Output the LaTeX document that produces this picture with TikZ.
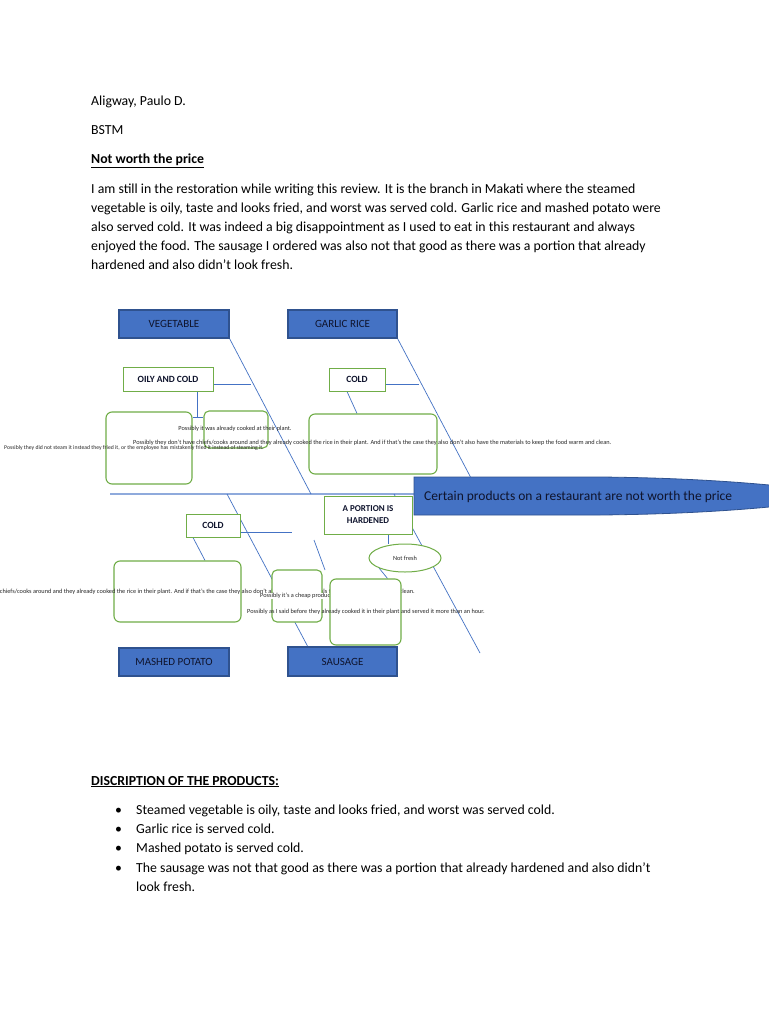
\documentclass[tikz,border=0pt]{standalone}
\usepackage{fontspec}
\setmainfont{Carlito}
\usepackage{tikz}
\usetikzlibrary{calc,shapes.geometric,backgrounds}
\definecolor{boxBlue}   {RGB}{68, 114, 196}
\definecolor{boxBorder} {RGB}{47,  82, 143}
\definecolor{causeGreen}{RGB}{112, 173, 71}
\definecolor{boneBlue}  {RGB}{68, 114, 196}
\definecolor{spineBlue} {RGB}{143, 170, 220}
\definecolor{textDark}  {RGB}{15,  20,  45}

\newcommand{\chefNote}{Possibly they don’t have chiefs/cooks around and they already cooked the rice in their plant. And if that’s the case they also don’t also have the materials to keep the food warm and clean.}

\tikzset{
  bodytext/.style={font=\fontsize{13.8}{18}\selectfont,anchor=base west,inner sep=0pt},
  catbox/.style={draw=boxBorder,fill=boxBlue,line width=1.1pt,inner sep=0pt,
                 font=\fontsize{11}{12}\selectfont,text=textDark},
  causebox/.style={draw=causeGreen,fill=white,line width=1pt,inner sep=0pt,
                   font=\bfseries\fontsize{9.5}{12}\selectfont,text=textDark},
  notebox/.style={draw=causeGreen,fill=white,line width=1.1pt,rounded corners=6pt,inner sep=0pt},
  tinytext/.style={font=\fontsize{6.3}{7}\selectfont,inner sep=0pt,text=black!85},
  bone/.style={draw=boneBlue,line width=0.7pt},
  spine/.style={draw=spineBlue,line width=1.3pt},
  headfill/.style={fill=boxBlue,draw=boxBorder,line width=0.8pt}
}

\begin{document}
\begin{tikzpicture}[x=1pt,y=-1pt]

    \begin{scope}[on background layer]
      \fill[white] (0,0) rectangle (768,1024);
    \end{scope}
    \useasboundingbox (0,0) rectangle (768,1024);

    % ════════ HEADER ════════
    \node[bodytext] (author) at (91,106) {Aligway, Paulo D.};
    \node[bodytext] (course) at (91,135) {BSTM};
    \node[bodytext,font=\bfseries\fontsize{13.8}{18}\selectfont] (title) at (91,164)
      {\underline{Not worth the price}};

    % review paragraph, one node per printed line
    \foreach \txt [count=\i] in {
      {I am still in the restoration while writing this review. It is the branch in Makati where the steamed},
      {vegetable is oily, taste and looks fried, and worst was served cold. Garlic rice and mashed potato were},
      {also served cold. It was indeed a big disappointment as I used to eat in this restaurant and always},
      {enjoyed the food. The sausage I ordered was also not that good as there was a portion that already},
      {hardened and also didn’t look fresh.}}{
      \node[bodytext] (review\i) at (91,{175.25+18.75*\i}) {\txt};
    }

    % ════════ FISHBONE ════════
    % categories
    \node[catbox,minimum width=110,minimum height=28] (veg)     at (174,324)     {VEGETABLE};
    \node[catbox,minimum width=109,minimum height=28] (rice)    at (342.5,324)   {GARLIC RICE};
    \node[catbox,minimum width=110,minimum height=28] (potato)  at (174,662)     {MASHED POTATO};
    \node[catbox,minimum width=109,minimum height=29] (sausage) at (342.5,661.5) {SAUSAGE};

    % head (effect), runs off the right edge
    \path[headfill] (414,477) -- (600,477) .. controls (700,478) and (780,484) .. (860,496)
      .. controls (780,508) and (700,514) .. (600,515) -- (414,515) -- cycle;
    \node[anchor=west,inner sep=0pt,font=\fontsize{13.5}{15}\selectfont,text=textDark]
      (effect) at (424,497) {Certain products on a restaurant are not worth the price};

    % causes
    \node[causebox,minimum width=90,minimum height=24] (oily)  at (168,379)   {OILY AND COLD};
    \node[causebox,minimum width=56,minimum height=23] (coldA) at (357,379.5) {COLD};
    \node[causebox,minimum width=54,minimum height=23] (coldB) at (213,525.5) {COLD};
    \node[causebox,minimum width=88,minimum height=38,align=center,
          font=\bfseries\fontsize{9}{12}\selectfont] (hard) at (368,515) {A PORTION IS\\HARDENED};
    \node[ellipse,draw=causeGreen,fill=white,line width=1pt,minimum width=72,
          minimum height=28,tinytext] (fresh) at (405,558) {Not fresh};

    % notes, upper side
    \node[notebox,minimum width=86,minimum height=72]  (noteVegA) at (149,448)   {};
    \node[notebox,minimum width=64,minimum height=37,rounded corners=5pt] (noteVegB) at (236,429.5) {};
    \node[notebox,minimum width=128,minimum height=60] (noteRice) at (373,444)   {};
    \node[tinytext] (txtVegB) at (235,429) {Possibly it was already cooked at their plant.};
    \node[tinytext,anchor=west] (txtRice) at (133,443) {\chefNote};
    \node[tinytext,anchor=west,font=\fontsize{5.7}{7}\selectfont] (txtVegA) at (4,448)
      {Possibly they did not steam it instead they fried it, or the employee has mistakenly fried it instead of steaming it.};

    % notes, lower side
    \node[notebox,minimum width=127,minimum height=61] (notePotato) at (177.5,591.5) {};
    \node[tinytext,anchor=east] (txtPotato) at (415,592) {\chefNote};
    \node[notebox,minimum width=50,minimum height=52,rounded corners=5pt] (noteSausA) at (297,596) {};
    \node[tinytext,anchor=west,fill=white] (txtSausA) at (260,596) {Possibly it’s a cheap product.};
    \node[notebox,minimum width=71,minimum height=66] (noteSausB) at (365.5,612) {};
    \node[tinytext,anchor=west] (txtSausB) at (247,612)
      {Possibly as I said before they already cooked it in their plant and served it more than an hour.};

    % free ends of the bones
    \coordinate (spineL) at (110,494);
    \coordinate (headW)  at (414,494);
    \coordinate (vegJ)   at (311,494);
    \coordinate (riceJ)  at (471,478);
    \coordinate (sausJ)  at (227,494);
    \coordinate (sausT)  at (308,647);
    \coordinate (hardJ)  at (394,494);
    \coordinate (hardT)  at (480,653);
    \coordinate (stubA)  at (314,540);
    \coordinate (stubB)  at (325,570);
    \coordinate (oilyJ)  at (251,384);
    \coordinate (coldAJ) at (419,384);
    \coordinate (coldBJ) at (292,532);
    \coordinate (oilyT)  at (197,417);

    \begin{scope}[on background layer]
      \draw[spine] (spineL) -- (headW);
      \draw[bone] (veg.south east) -- (vegJ);
      \draw[bone] (rice.south east) -- (riceJ);
      \draw[bone] (sausJ) -- (sausT);
      \draw[bone] (hardJ) -- (hardT);
      \draw[bone] (stubA) -- (stubB);
      % causes to bones
      \draw[bone] (oily.east |- oilyJ) -- (oilyJ);
      \draw[bone] (coldA.east |- coldAJ) -- (coldAJ);
      \draw[bone] (coldB.east |- coldBJ) -- (coldBJ);
      % causes to notes
      \draw[bone] (oily.south -| oilyT) -- (oilyT);
      \draw[bone] (noteVegA.east |- oilyT) -- (noteVegB.west |- oilyT);
      \draw[bone] ($(coldA.south)+(-10,0)$) -- ($(noteRice.north)+(-16,0)$);
      \draw[bone] ($(coldB.south)+(-20,0)$) -- ($(notePotato.north)+(27.5,0)$);
      \draw[bone] ($(hard.south)+(20,0)$) -- ($(fresh.north)+(-17,0)$);
      \draw[bone] (fresh.south west) -- ($(noteSausB.north)+(22,0)$);
    \end{scope}

    % ════════ DESCRIPTION ════════
    \node[bodytext,font=\bfseries\fontsize{13.8}{18}\selectfont] (listHead) at (91,785)
      {\underline{DISCRIPTION OF THE PRODUCTS:}};
    \foreach \txt [count=\i] in {
      {Steamed vegetable is oily, taste and looks fried, and worst was served cold.},
      {Garlic rice is served cold.},
      {Mashed potato is served cold.},
      {The sausage was not that good as there was a portion that already hardened and also didn’t}}{
      \node[bodytext] (dot\i) at (115,{795+19.25*\i}) {\textbullet};
      \node[bodytext] (item\i) at (136,{795+19.25*\i}) {\txt};
    }
    \node[bodytext] (item5) at (136,891.5) {look fresh.};

\end{tikzpicture}
\end{document}
